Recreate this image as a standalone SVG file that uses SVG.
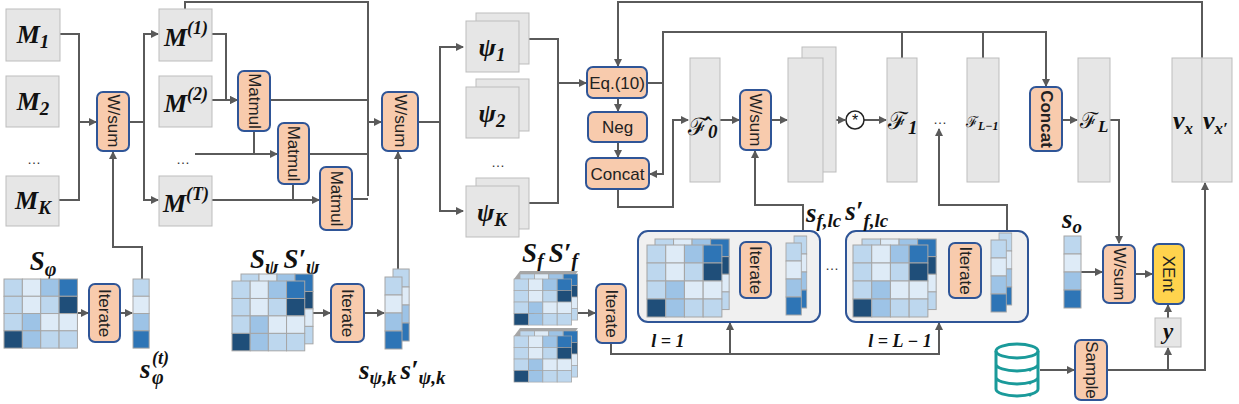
<svg xmlns="http://www.w3.org/2000/svg" xmlns:xlink="http://www.w3.org/1999/xlink" width="1239" height="404" viewBox="0 0 1239 404">
<style>
.op{fill:#f8cbad;stroke:#2f5597;stroke-width:2}
.xe{fill:#ffd34d;stroke:#2f5597;stroke-width:2}
.gb{fill:#e6e6e6;stroke:#bdbdbd;stroke-width:1}
.blk{fill:#f0f0f0;stroke:#2f5597;stroke-width:2}
.ot{font-family:"Liberation Sans",Arial,sans-serif;font-size:17px;fill:#222;text-anchor:middle;dominant-baseline:central}
.mt{font-family:"Liberation Serif","DejaVu Serif",serif;font-weight:bold;font-style:italic;fill:#111}
.sc{font-family:"DejaVu Serif","Liberation Serif",serif;fill:#111}
.dt{font-family:"Liberation Sans",sans-serif;font-size:14px;fill:#333;text-anchor:middle}
#conn path{fill:none;stroke:#5a5a5a;stroke-width:2}
.cl rect{stroke:#a6a6a6;stroke-width:1}
</style>
<defs>
<marker id="a" markerWidth="8" markerHeight="8" refX="7" refY="4" orient="auto" markerUnits="userSpaceOnUse"><path d="M0,0L8,4L0,8z" fill="#5a5a5a"/></marker>
<g id="mat" class="cl">
<rect x="0" y="0" width="18" height="18" fill="#bdd7ee"/><rect x="18" y="0" width="18" height="18" fill="#deebf7"/><rect x="36" y="0" width="18" height="18" fill="#9dc3e6"/><rect x="54" y="0" width="18" height="18" fill="#2e75b6"/>
<rect x="0" y="18" width="18" height="18" fill="#bdd7ee"/><rect x="18" y="18" width="18" height="18" fill="#deebf7"/><rect x="36" y="18" width="18" height="18" fill="#bdd7ee"/><rect x="54" y="18" width="18" height="18" fill="#1f4e79"/>
<rect x="0" y="36" width="18" height="18" fill="#bdd7ee"/><rect x="18" y="36" width="18" height="18" fill="#9dc3e6"/><rect x="36" y="36" width="18" height="18" fill="#deebf7"/><rect x="54" y="36" width="18" height="18" fill="#deebf7"/>
<rect x="0" y="54" width="18" height="18" fill="#1f4e79"/><rect x="18" y="54" width="18" height="18" fill="#9dc3e6"/><rect x="36" y="54" width="18" height="18" fill="#bdd7ee"/><rect x="54" y="54" width="18" height="18" fill="#bdd7ee"/>
</g>
<g id="vec" class="cl">
<rect x="0" y="0" width="17" height="18" fill="#bdd7ee"/><rect x="0" y="18" width="17" height="18" fill="#deebf7"/><rect x="0" y="36" width="17" height="18" fill="#9dc3e6"/><rect x="0" y="54" width="17" height="18" fill="#2e75b6"/>
</g>
<g id="cube">
<polygon points="0,8 6,0 64,0 58,8" fill="#a6a6a6"/>
<use xlink:href="#mat" transform="translate(6,3) scale(0.8,0.64)"/>
<use xlink:href="#mat" transform="translate(0,8) scale(0.8,0.64)"/>
</g>
</defs>

<g id="conn">
<path d="M60,34H79V200H59"/><path d="M79,122H96" marker-end="url(#a)"/>
<path d="M129,122H144"/><path d="M144,122V34H158" marker-end="url(#a)"/><path d="M144,122V200H158" marker-end="url(#a)"/>
<path d="M185,9V2H368V196"/><path d="M270,100H368"/><path d="M309,154H368"/><path d="M352,199H368"/><path d="M368,122H381" marker-end="url(#a)"/>
<path d="M212,34H226V100H237" marker-end="url(#a)"/><path d="M212,100H237" marker-end="url(#a)"/>
<path d="M195,154H277" marker-end="url(#a)"/><path d="M254,131V154"/>
<path d="M212,200H319" marker-end="url(#a)"/><path d="M293,184V200"/>
<path d="M77,313H88" marker-end="url(#a)"/><path d="M120,313H132" marker-end="url(#a)"/><path d="M142,279V247H113V152" marker-end="url(#a)"/>
<path d="M313,313H330" marker-end="url(#a)"/><path d="M364,313H384" marker-end="url(#a)"/><path d="M398,269V152" marker-end="url(#a)"/>
<path d="M418,122H440"/><path d="M440,122V47H463" marker-end="url(#a)"/><path d="M440,122V211H463" marker-end="url(#a)"/>
<path d="M529,39H558V203H529"/><path d="M558,83H586" marker-end="url(#a)"/>
<path d="M1202,58V2H618V66" marker-end="url(#a)"/>
<path d="M618,98V111" marker-end="url(#a)"/><path d="M618,142V157" marker-end="url(#a)"/>
<path d="M647,83H663V174H650" marker-end="url(#a)"/><path d="M663,83V32H1046V86" marker-end="url(#a)"/><path d="M902,32V58"/><path d="M983,32V58"/>
<path d="M618,189V207H673V120H688" marker-end="url(#a)"/>
<path d="M720,120H739" marker-end="url(#a)"/><path d="M771,120H787" marker-end="url(#a)"/><path d="M836,120H845" marker-end="url(#a)"/><path d="M864,120H886" marker-end="url(#a)"/>
<path d="M1062,120H1077" marker-end="url(#a)"/><path d="M1110,120H1119V243" marker-end="url(#a)"/>
<path d="M1081,272H1102" marker-end="url(#a)"/><path d="M1135,274H1152" marker-end="url(#a)"/><path d="M1168,318V305" marker-end="url(#a)"/>
<path d="M1040,370H1074" marker-end="url(#a)"/><path d="M1107,370H1205V183" marker-end="url(#a)"/><path d="M1168,370V348" marker-end="url(#a)"/>
<path d="M578,313H595" marker-end="url(#a)"/><path d="M611,343V354H939V323" marker-end="url(#a)"/><path d="M730,354V323" marker-end="url(#a)"/>
<path d="M727,277H739" marker-end="url(#a)"/><path d="M771,272H785" marker-end="url(#a)"/>
<path d="M935,277H948" marker-end="url(#a)"/><path d="M981,272H991" marker-end="url(#a)"/>
<path d="M803,236V205H755V151" marker-end="url(#a)"/><path d="M1007,233V205H939V129" marker-end="url(#a)"/>
</g>

<g id="M1"><rect class="gb" x="6" y="9" width="54" height="52"/><text class="mt" x="33" y="43" text-anchor="middle" font-size="26">M<tspan font-size="19" dy="5">1</tspan></text></g>
<g id="M2"><rect class="gb" x="6" y="76" width="53" height="51"/><text class="mt" x="33" y="110" text-anchor="middle" font-size="26">M<tspan font-size="19" dy="5">2</tspan></text></g>
<text class="dt" x="34" y="164">…</text>
<g id="MK"><rect class="gb" x="6" y="176" width="53" height="50"/><text class="mt" x="33" y="209" text-anchor="middle" font-size="26">M<tspan font-size="19" dy="5">K</tspan></text></g>
<g id="wsum1"><rect class="op" x="97" y="92" width="32" height="59" rx="6"/><text class="ot" transform="translate(113,121) rotate(90)">W/sum</text></g>
<g id="Mt1"><rect class="gb" x="159" y="9" width="53" height="52"/><text class="mt" x="186" y="46" text-anchor="middle" font-size="26">M<tspan font-size="18" dy="-12">(1)</tspan></text></g>
<g id="Mt2"><rect class="gb" x="159" y="76" width="53" height="51"/><text class="mt" x="186" y="112" text-anchor="middle" font-size="26">M<tspan font-size="18" dy="-12">(2)</tspan></text></g>
<text class="dt" x="183" y="164">…</text>
<g id="MtT"><rect class="gb" x="159" y="176" width="53" height="50"/><text class="mt" x="186" y="212" text-anchor="middle" font-size="26">M<tspan font-size="18" dy="-12">(T)</tspan></text></g>
<g id="matmul1"><rect class="op" x="238" y="71" width="32" height="60" rx="6"/><text class="ot" transform="translate(254,101) rotate(90)">Matmul</text></g>
<g id="matmul2"><rect class="op" x="278" y="123" width="31" height="61" rx="6"/><text class="ot" transform="translate(293.5,153.5) rotate(90)">Matmul</text></g>
<g id="matmul3"><rect class="op" x="320" y="167" width="32" height="63" rx="6"/><text class="ot" transform="translate(336,198.5) rotate(90)">Matmul</text></g>
<g id="wsum2"><rect class="op" x="382" y="92" width="36" height="59" rx="6"/><text class="ot" transform="translate(400,121) rotate(90)">W/sum</text></g>

<g id="Sphi"><text class="mt" x="43" y="270" text-anchor="middle" font-size="27">S<tspan font-size="20" dy="6">φ</tspan></text><use xlink:href="#mat" transform="translate(4,279) scale(1.02,0.96)"/></g>
<g id="iter1"><rect class="op" x="89" y="284" width="31" height="58" rx="6"/><text class="ot" transform="translate(104.5,313) rotate(90)">Iterate</text></g>
<g id="sphit"><use xlink:href="#vec" transform="translate(133,279) scale(0.95,0.96)"/><text class="mt" x="140" y="378" font-size="27">s</text><text class="mt" x="152" y="384" font-size="20">φ</text><text class="mt" x="152" y="364" font-size="18">(t)</text></g>

<g id="Spsi"><text class="mt" x="250" y="268" font-size="27">S<tspan font-size="20" dy="6">ψ</tspan><tspan dy="-6" dx="5">S′</tspan><tspan font-size="20" dy="6">ψ</tspan></text>
<use xlink:href="#mat" transform="translate(241,274) scale(1,0.97)"/><use xlink:href="#mat" transform="translate(232,281) scale(1.01,0.97)"/></g>
<g id="iter2"><rect class="op" x="331" y="284" width="33" height="58" rx="6"/><text class="ot" transform="translate(347.5,313) rotate(90)">Iterate</text></g>
<g id="spsik"><use xlink:href="#vec" transform="translate(393,269) scale(0.95,1.0)"/><use xlink:href="#vec" transform="translate(385,277) scale(1,1.0)"/><text class="mt" x="359" y="379" font-size="27">s<tspan font-size="19" dy="5">ψ,k</tspan><tspan dy="-5" dx="4">s′</tspan><tspan font-size="19" dy="5">ψ,k</tspan></text></g>

<g id="psi1"><rect class="gb" x="476" y="13" width="53" height="51"/><rect class="gb" x="466" y="21" width="53" height="51"/><text class="mt" x="492" y="56" text-anchor="middle" font-size="26">ψ<tspan font-size="19" dy="5">1</tspan></text></g>
<g id="psi2"><rect class="gb" x="476" y="79" width="53" height="52"/><rect class="gb" x="466" y="87" width="53" height="51"/><text class="mt" x="492" y="122" text-anchor="middle" font-size="26">ψ<tspan font-size="19" dy="5">2</tspan></text></g>
<text class="dt" x="498" y="167">…</text>
<g id="psiK"><rect class="gb" x="476" y="178" width="53" height="51"/><rect class="gb" x="466" y="186" width="53" height="51"/><text class="mt" x="492" y="221" text-anchor="middle" font-size="26">ψ<tspan font-size="19" dy="5">K</tspan></text></g>

<g id="eq10"><rect class="op" x="587" y="67" width="60" height="31" rx="6"/><text class="ot" x="617" y="83" font-size="17">Eq.(10)</text></g>
<g id="neg"><rect class="op" x="588" y="112" width="59" height="30" rx="6"/><text class="ot" x="617.5" y="127" font-size="17">Neg</text></g>
<g id="concat1"><rect class="op" x="586" y="158" width="63" height="31" rx="6"/><text class="ot" x="617.5" y="174" font-size="17">Concat</text></g>

<g id="F0"><rect class="gb" x="690" y="58" width="30" height="124"/><text class="sc" x="688" y="135" font-size="24">ℱ̂<tspan class="mt" font-size="19" dy="3">0</tspan></text></g>
<g id="wsum3"><rect class="op" x="740" y="90" width="31" height="60" rx="6"/><text class="ot" transform="translate(755.5,120) rotate(90)">W/sum</text></g>
<g id="stack"><rect class="gb" x="802" y="47" width="34" height="125"/><rect class="gb" x="788" y="58" width="35" height="124"/></g>
<g id="conv"><circle cx="855" cy="120" r="9" fill="#fff" stroke="#222" stroke-width="1.5"/><text x="855" y="126" text-anchor="middle" font-family="Liberation Sans,sans-serif" font-size="16" fill="#111">*</text></g>
<g id="F1"><rect class="gb" x="887" y="58" width="30" height="124"/><text class="sc" x="888" y="129" font-size="24">ℱ<tspan class="mt" font-size="19" dy="5">1</tspan></text></g>
<text class="dt" x="940" y="124">…</text>
<g id="FL1"><rect class="gb" x="967" y="58" width="32" height="124"/><text class="sc" x="966" y="127" font-size="15">ℱ<tspan class="mt" font-size="12" dy="3">L−1</tspan></text></g>
<g id="concat2"><rect class="op" x="1030" y="87" width="32" height="64" rx="6"/><text class="ot" font-weight="bold" transform="translate(1046,119) rotate(90)">Concat</text></g>
<g id="FL"><rect class="gb" x="1078" y="58" width="32" height="124"/><text class="sc" x="1080" y="128" font-size="22">ℱ<tspan class="mt" font-size="17" dy="4">L</tspan></text></g>
<g id="vx"><rect class="gb" x="1172" y="58" width="30" height="124"/><rect class="gb" x="1202" y="58" width="30" height="124"/><text class="mt" x="1173" y="129" font-size="26">v<tspan font-size="17" dy="5">x</tspan></text><text class="mt" x="1203" y="129" font-size="26">v<tspan font-size="17" dy="5">x′</tspan></text></g>

<g id="so"><text class="mt" x="1062" y="228" font-size="27">s<tspan font-size="19" dy="5">o</tspan></text><use xlink:href="#vec" transform="translate(1064,236) scale(1,1)"/></g>
<g id="wsum4"><rect class="op" x="1103" y="245" width="32" height="58" rx="6"/><text class="ot" transform="translate(1119,274) rotate(90)">W/sum</text></g>
<g id="xent"><rect class="xe" x="1153" y="244" width="31" height="60" rx="6"/><text class="ot" transform="translate(1168.5,274) rotate(90)">XEnt</text></g>
<g id="y"><rect class="gb" x="1155" y="318" width="26" height="29"/><text class="mt" x="1168" y="339" text-anchor="middle" font-size="23">y</text></g>
<g id="db" fill="none" stroke="#1a9a9a" stroke-width="3">
<ellipse cx="1017" cy="351" rx="21" ry="7"/>
<path d="M996,351V389A21,7 0 0 0 1038,389V351M996,364A21,7 0 0 0 1038,364M996,377A21,7 0 0 0 1038,377"/>
<circle cx="1030" cy="370" r="1.5" fill="#1a9a9a" stroke="none"/><circle cx="1030" cy="383" r="1.5" fill="#1a9a9a" stroke="none"/><circle cx="1030" cy="395" r="1.5" fill="#1a9a9a" stroke="none"/>
</g>
<g id="sample"><rect class="op" x="1075" y="340" width="32" height="60" rx="6"/><text class="ot" transform="translate(1091,370) rotate(90)">Sample</text></g>

<g id="Sf"><text class="mt" x="522" y="262" font-size="27">S<tspan font-size="20" dy="6">f</tspan><tspan dy="-6" dx="5">S′</tspan><tspan font-size="20" dy="6">f</tspan></text>
<use xlink:href="#cube" transform="translate(514,271)"/><use xlink:href="#cube" transform="translate(514,328)"/></g>
<g id="iter3"><rect class="op" x="596" y="284" width="30" height="59" rx="6"/><text class="ot" transform="translate(611,313.5) rotate(90)">Iterate</text></g>

<g id="block1"><rect class="blk" x="638" y="231" width="182" height="91" rx="10"/>
<use xlink:href="#mat" transform="translate(655,239) scale(1.03,0.98)"/><use xlink:href="#mat" transform="translate(647,245) scale(1.04,1)"/>
<rect class="op" x="740" y="242" width="31" height="56" rx="6"/><text class="ot" transform="translate(755.5,270) rotate(90)">Iterate</text>
<use xlink:href="#vec" transform="translate(794,236) scale(0.75,1)"/><use xlink:href="#vec" transform="translate(786,243) scale(0.9,1)"/>
<text class="mt" x="668" y="347" text-anchor="middle" font-size="18">l = 1</text></g>
<text class="dt" x="832" y="270">…</text>
<g id="block2"><rect class="blk" x="846" y="231" width="182" height="91" rx="10"/>
<use xlink:href="#mat" transform="translate(862,239) scale(1.03,0.98)"/><use xlink:href="#mat" transform="translate(853,245) scale(1.04,1)"/>
<rect class="op" x="949" y="243" width="32" height="55" rx="6"/><text class="ot" transform="translate(965,270.5) rotate(90)">Iterate</text>
<use xlink:href="#vec" transform="translate(999,233) scale(0.75,1)"/><use xlink:href="#vec" transform="translate(991,240) scale(0.9,1)"/>
<text class="mt" x="900" y="347" text-anchor="middle" font-size="18">l = L − 1</text></g>
<text class="mt" x="806" y="222" font-size="27">s<tspan font-size="19" dy="5">f,lc</tspan><tspan dy="-7" dx="4">s′</tspan><tspan font-size="19" dy="7">f,lc</tspan></text>
</svg>
